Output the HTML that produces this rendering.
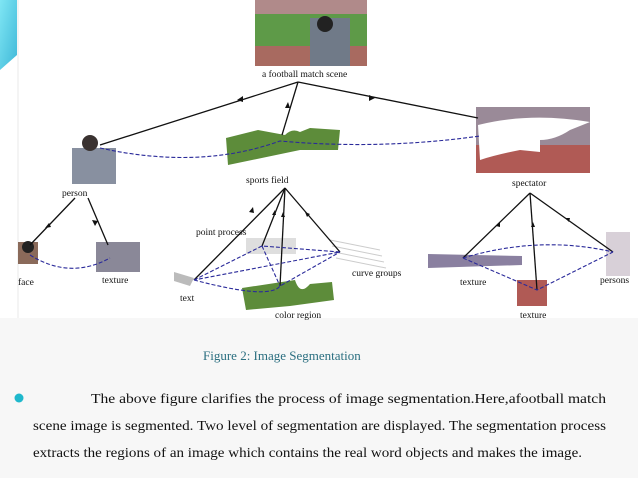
<!DOCTYPE html>
<html><head><meta charset="utf-8"><style>
html,body{margin:0;padding:0;width:638px;height:478px;overflow:hidden;background:#f7f7f7;}
svg{position:absolute;left:0;top:0}
.l{font-family:"Liberation Serif",serif;font-size:9.5px;fill:#111}
</style></head><body>
<svg width="638" height="478" viewBox="0 0 638 478" xmlns="http://www.w3.org/2000/svg">
<defs>
<linearGradient id="cy" x1="0" y1="0" x2="1" y2="1"><stop offset="0" stop-color="#7fe6f4"/><stop offset="1" stop-color="#3fb8d8"/></linearGradient>
</defs>
<rect x="0" y="0" width="638" height="318" fill="#fff"/>
<polygon points="0,0 17,0 17,55 0,70" fill="url(#cy)"/>
<line x1="18" y1="0" x2="18" y2="318" stroke="#e8e8e8"/>
<!-- top scene image -->
<rect x="255" y="0" width="112" height="66" fill="#5e9a48"/>
<rect x="255" y="0" width="112" height="14" fill="#b08a8a"/>
<rect x="255" y="46" width="112" height="20" fill="#a86a60"/>
<rect x="310" y="18" width="40" height="48" fill="#707a88"/>
<circle cx="325" cy="24" r="8" fill="#222"/>
<text class="l" x="262" y="77">a football match scene</text>
<!-- person -->
<rect x="72" y="148" width="44" height="36" fill="#8890a0"/>
<circle cx="90" cy="143" r="8" fill="#3a3230"/>
<text class="l" x="62" y="196">person</text>
<!-- sports field -->
<path d="M226,138 L258,130 L285,135 Q292,128 300,132 L310,128 L340,130 L338,150 L300,150 L228,165z" fill="#5d8c3a"/>
<text class="l" x="246" y="183">sports field</text>
<!-- spectator image -->
<rect x="476" y="107" width="114" height="66" fill="#9a8a98"/>
<rect x="476" y="145" width="114" height="28" fill="#b05a55"/>
<path d="M478,125 Q530,112 590,122 L570,130 Q555,140 540,140 L540,152 L520,150 Q495,155 480,160z" fill="#fff"/>
<text class="l" x="512" y="186">spectator</text>
<!-- face/texture -->
<rect x="18" y="242" width="20" height="22" fill="#8a6a5a"/><circle cx="28" cy="247" r="6" fill="#222"/>
<text class="l" x="18" y="285">face</text>
<rect x="96" y="242" width="44" height="30" fill="#8a8898"/>
<text class="l" x="102" y="283">texture</text>
<!-- middle bottom -->
<rect x="246" y="238" width="50" height="16" fill="#c8c8c8" opacity=".6"/>
<g stroke="#ccc" fill="none"><path d="M330,240 l50,10 M332,246 l50,10 M334,252 l50,10 M336,258 l50,10"/></g>
<path d="M174,272 l20,6 l-4,8 l-16,-5z" fill="#bbb"/>
<path d="M242,288 L295,280 Q300,296 310,284 L332,282 L334,300 L290,306 L246,310z" fill="#5d8c3a"/>
<text class="l" x="196" y="235">point process</text>
<text class="l" x="352" y="276">curve groups</text>
<text class="l" x="180" y="301">text</text>
<text class="l" x="275" y="318">color region</text>
<!-- right bottom -->
<path d="M428,254 L522,256 L522,265 L428,268z" fill="#8a80a0"/>
<rect x="517" y="280" width="30" height="26" fill="#b05a55"/>
<rect x="606" y="232" width="24" height="44" fill="#d8d0d8"/>
<text class="l" x="460" y="285">texture</text>
<text class="l" x="600" y="283">persons</text>
<text class="l" x="520" y="318">texture</text>
<!-- black edges -->
<g stroke="#111" stroke-width="1.3" fill="none">
<line x1="298" y1="82" x2="100" y2="145"/>
<line x1="298" y1="82" x2="282" y2="135"/>
<line x1="298" y1="82" x2="478" y2="118"/>
<line x1="75" y1="198" x2="30" y2="245"/><line x1="88" y1="198" x2="108" y2="245"/>
<line x1="285" y1="188" x2="194" y2="280"/><line x1="285" y1="188" x2="262" y2="246"/>
<line x1="285" y1="188" x2="280" y2="286"/><line x1="285" y1="188" x2="340" y2="252"/>
<line x1="530" y1="193" x2="463" y2="258"/><line x1="530" y1="193" x2="537" y2="290"/><line x1="530" y1="193" x2="613" y2="252"/>
</g>
<g fill="#111"><path d="M237,100 l6,-4 l0,6z"/><path d="M288,102 l-3,6 l5,0z"/><path d="M375,98 l-6,-3 l0,6z"/><path d="M92,220 l3,6 l3,-5z"/><path d="M45,228 l4,-5 l2,4z"/><path d="M253,207 l-4,5 l5,1z"/><path d="M275,210 l-3,5 l4,0z"/><path d="M283,212 l-2,5 l4,0z"/><path d="M305,212 l2,5 l3,-3z"/><path d="M500,222 l-4,4 l4,1z"/><path d="M533,222 l-2,5 l4,0z"/><path d="M565,218 l4,4 l1,-4z"/></g>
<!-- blue dashed -->
<g stroke="#2a2a9a" stroke-width="1.1" fill="none" stroke-dasharray="4,2">
<path d="M100,148 Q200,170 280,141 Q380,150 480,136"/>
<path d="M30,255 Q70,280 110,258"/>
<path d="M194,280 L262,246 L340,252 Z"/><path d="M194,280 Q270,300 280,286 L340,252"/><path d="M262,246 L280,286"/>
<path d="M463,258 Q540,235 613,252"/><path d="M463,258 L537,290 L613,252"/>
</g>
<text x="203" y="360" font-family="Liberation Serif,serif" font-size="13" fill="#2b6f80">Figure 2: Image Segmentation</text>
<circle cx="19" cy="398" r="4.5" fill="#1fb8cc"/>
<g font-family="Liberation Serif,serif" font-size="14" fill="#111">
<text x="91" y="403" textLength="515" lengthAdjust="spacingAndGlyphs">The above figure clarifies the process of image segmentation.Here,afootball match</text>
<text x="33" y="430" textLength="573" lengthAdjust="spacingAndGlyphs">scene image is segmented. Two level of segmentation are displayed. The segmentation process</text>
<text x="33" y="457" textLength="549" lengthAdjust="spacingAndGlyphs">extracts the regions of an image which contains the real word objects and makes the image.</text>
</g>
</svg>
</body></html>
